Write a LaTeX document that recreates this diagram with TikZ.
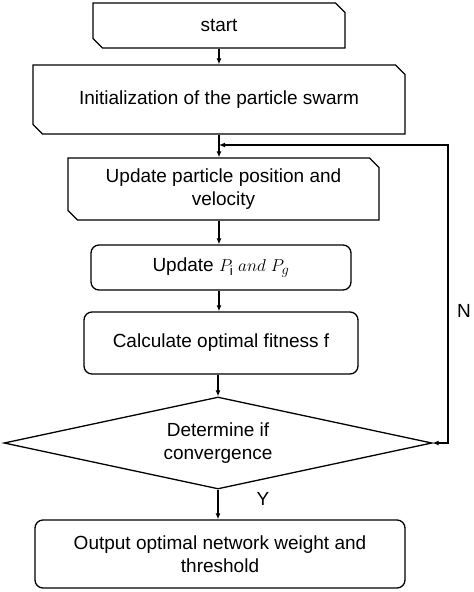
\documentclass[tikz,border=0pt]{standalone}
\usepackage{fontspec}
\setmainfont{Liberation Sans}
\usepackage{tikz}
\usetikzlibrary{shapes.geometric, shapes.misc, arrows.meta, positioning}
\tikzset{
      font=\fontsize{19}{23}\selectfont,    % large sans text everywhere
      process/.style          = {chamfered rectangle, draw, line width=1.3pt,
                                 chamfered rectangle corners={north east, south west},
                                 chamfered rectangle xsep=6pt,
                                 inner sep=2pt, align=center},
      roundbox/.style         = {rectangle, rounded corners=8pt, draw, line width=1.3pt,
                                 inner sep=2pt, align=center},
      decision/.style         = {diamond, draw, line width=1.3pt, aspect=4.65,
                                 inner sep=0pt, align=center},
      arrow/.style            = {-{Latex[length=6pt,width=5pt]}, line width=1.2pt}
    }
\begin{document}
\begin{tikzpicture}[x=1pt, y=-1pt]
  \useasboundingbox (0,0) rectangle (474,592);
  % Boxes of the flow
  \node[process, minimum width=252pt, minimum height=45pt] (start) at (219,25.5) {start};
  \node[process, minimum width=372pt, minimum height=69pt] (init) at (219,99.5) {Initialization of the particle swarm};
  \node[process, minimum width=311pt, minimum height=62pt] (update) at (223.5,189) {Update particle position and\\velocity};
  \node[roundbox, minimum width=260pt, minimum height=45pt] (updpg) at (221,267.5) {Update $P_{\mathrm{i}}\;and\;P_g$};
  \node[roundbox, minimum width=274pt, minimum height=62pt] (fitness) at (221,343) {Calculate optimal fitness f};
  \node[decision, minimum width=428pt, minimum height=92pt] (conv) at (218,443) {Determine if\\convergence};
  \node[roundbox, minimum width=370pt, minimum height=68pt] (output) at (220,554) {Output optimal network weight and\\threshold};
  % Loop back point
  \coordinate (join) at (219,145);
  \coordinate (turn) at (448,443);
  % Straight arrows
  \draw[arrow] (start.south -| 219,0) -- (init.north -| 219,0);
  \draw[arrow] (init.south -| 219,0) -- (update.north -| 219,0);
  \draw[arrow] (update.south -| 219,0) -- (updpg.north -| 219,0);
  \draw[arrow] (updpg.south -| 219,0) -- (fitness.north -| 219,0);
  \draw[arrow] (fitness.south -| 218,0) -- (conv.north);
  \draw[arrow] (conv.south) -- (output.north -| conv.south);
  % Feedback
  \draw[arrow, {Latex[length=6pt,width=5pt]}-{Latex[length=6pt,width=5pt]}] (conv.east) -- (turn) |- (join);
  % Branch labels
  \node (nlab) at (464,311) {N};
  \node (ylab) at (263,499) {Y};
\end{tikzpicture}
\end{document}
